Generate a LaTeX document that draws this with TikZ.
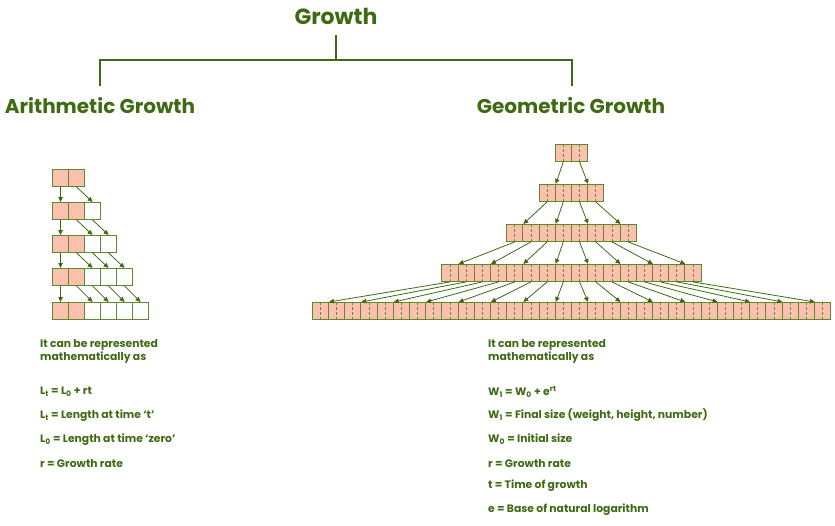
\documentclass[tikz,border=0pt]{standalone}
\usepackage{fontspec}
\setmainfont{Poppins}
\usetikzlibrary{arrows.meta}
\definecolor{gdark}{HTML}{3E6B12}
\definecolor{gcell}{HTML}{5E8A2E}
\definecolor{pinkc}{HTML}{FCC1AE}
\begin{document}
\begin{tikzpicture}[x=1pt,y=-1pt,
  cellbox/.style={draw=gcell,line width=0.9pt,minimum width=16.2pt,minimum height=17pt,inner sep=0pt,anchor=north west},
  pinkbox/.style={cellbox,fill=pinkc},
  arr/.style={-{Triangle[length=5pt,width=4.5pt]},draw=gdark,line width=0.8pt},
  txt/.style={anchor=west,text=gdark,font=\bfseries\fontsize{10.8}{13}\selectfont,inner sep=0pt},
  head/.style={text=gdark,font=\bfseries\fontsize{20}{23}\selectfont,inner sep=0pt}]
\useasboundingbox (0,0) rectangle (835,525);
% title and tree
\node[head,font=\bfseries\fontsize{22}{25}\selectfont] (title) at (336,16) {Growth};
\coordinate (t0) at (336,35);
\coordinate (t1) at (336,60);
\coordinate (tl) at (100,60);
\coordinate (tr) at (572,60);
\coordinate (tl2) at (100,86);
\coordinate (tr2) at (572,86);
\draw[gdark,line width=2pt] (t0) -- (t1) (tl2) -- (tl) -- (tr) -- (tr2);
\node[head] (arith) at (100,106) {Arithmetic Growth};
\node[head] (geom) at (571,106) {Geometric Growth};
% arithmetic
\foreach \r/\y in {0/169,1/202,2/235,3/268,4/302}{
  \pgfmathtruncatemacro\n{\r+1}
  \foreach \j in {0,...,\n}{
    \ifnum\j<2
      \node[pinkbox] (a-\r-\j) at (52+16*\j,\y) {};
    \else
      \node[cellbox] (a-\r-\j) at (52+16*\j,\y) {};
    \fi
  }
}
\foreach \r in {0,...,3}{
  \pgfmathtruncatemacro\rn{\r+1}
  \pgfmathtruncatemacro\n{\r+1}
  \draw[arr] (a-\r-0.south) -- (a-\rn-0.north);
  \foreach \j in {1,...,\n}{
    \pgfmathtruncatemacro\jn{\j+1}
    \draw[arr] (a-\r-\j.south) -- (a-\rn-\jn.north);
  }
}
% geometric
\foreach \r/\y in {0/144,1/184,2/224,3/264,4/302}{
  \pgfmathtruncatemacro\n{2^(\r+1)}
  \pgfmathsetmacro\xs{571-16.2*\n/2}
  \pgfmathtruncatemacro\nm{\n-1}
  \foreach \j in {0,...,\nm}{
    \node[pinkbox] (g-\r-\j) at (\xs+16.2*\j,\y) {};
    \draw[gcell,densely dashed,line width=0.6pt] (g-\r-\j.north) -- (g-\r-\j.south);
  }
}
\foreach \r in {0,...,3}{
  \pgfmathtruncatemacro\rn{\r+1}
  \pgfmathtruncatemacro\nm{2^(\r+1)-1}
  \foreach \j in {0,...,\nm}{
    \pgfmathtruncatemacro\ja{2*\j}
    \draw[arr] (g-\r-\j.south) -- (g-\rn-\ja.north east);
  }
}
% texts left
\node[txt] (l1) at (40,345) {It can be represented};
\node[txt] (l2) at (40,358) {mathematically as};
\node[txt] (l3) at (40,392) {L\textsubscript{t} = L\textsubscript{0} + rt};
\node[txt] (l4) at (40,416) {L\textsubscript{t} = Length at time ‘t’};
\node[txt] (l5) at (40,440) {L\textsubscript{0} = Length at time ‘zero’};
\node[txt] (l6) at (40,464) {r = Growth rate};
% texts right
\node[txt] (r1) at (488,345) {It can be represented};
\node[txt] (r2) at (488,358) {mathematically as};
\node[txt] (r3) at (488,392) {W\textsubscript{1} = W\textsubscript{0} + e\textsuperscript{rt}};
\node[txt] (r4) at (488,415) {W\textsubscript{1} = Final size (weight, height, number)};
\node[txt] (r5) at (488,439) {W\textsubscript{0} = Initial size};
\node[txt] (r6) at (488,464) {r = Growth rate};
\node[txt] (r7) at (488,486) {t = Time of growth};
\node[txt] (r8) at (488,510) {e = Base of natural logarithm};
\end{tikzpicture}
\end{document}
